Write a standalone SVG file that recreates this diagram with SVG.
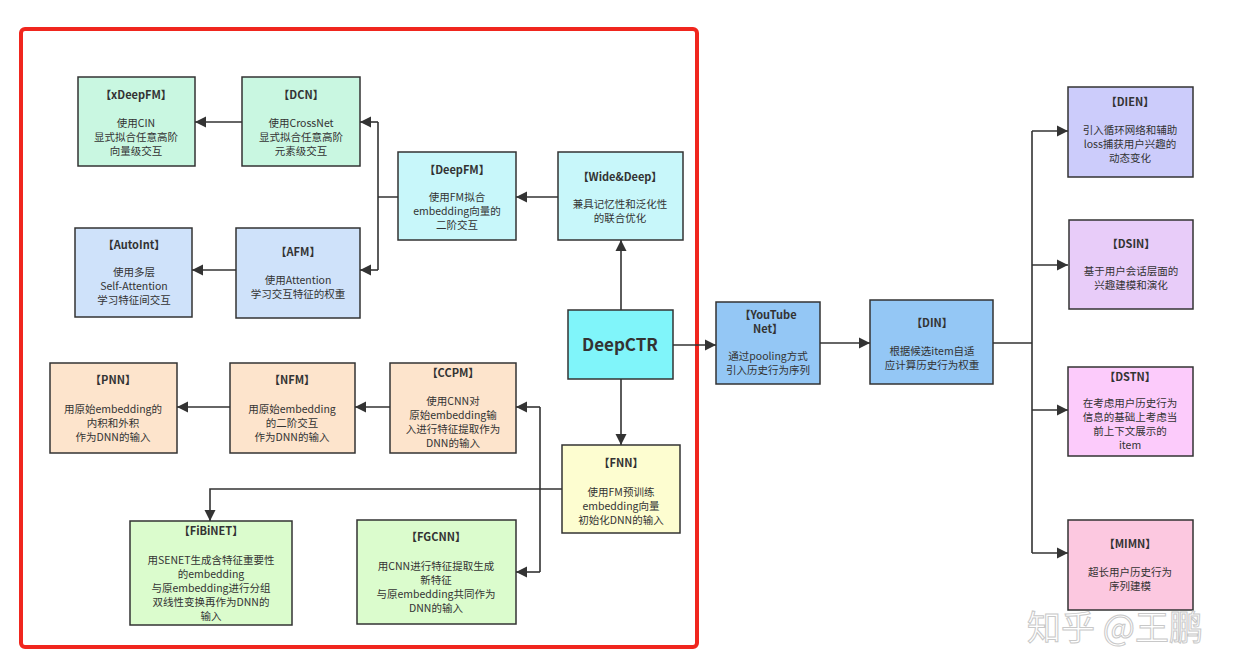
<svg xmlns="http://www.w3.org/2000/svg" width="1240" height="670" viewBox="0 0 1240 670">
<defs>
<marker id="a" viewBox="0 0 10 10" refX="10" refY="5" markerWidth="7" markerHeight="7" orient="auto"><path d="M0,0L10,5L0,10z" fill="#333"/></marker>
<style>
text{font-family:"Noto Sans CJK SC","Noto Sans",sans-serif;font-size:10.5px;fill:#333;text-anchor:middle}
.t{font-weight:bold;font-size:11px}
rect.n{stroke:#333;stroke-width:1.5}
.c path{fill:none;stroke:#333;stroke-width:1.6}
.c path.m{marker-end:url(#a)}
</style>
</defs>
<rect width="1240" height="670" fill="#fff"/>
<rect x="21" y="29" width="676" height="618" rx="4" fill="none" stroke="#f0261e" stroke-width="4"/>
<g class="c">
<path class="m" d="M558,197H516"/>
<path d="M398,197H378M378,122V270"/>
<path class="m" d="M378,122H360"/>
<path class="m" d="M378,270H360"/>
<path class="m" d="M242,122H195"/>
<path class="m" d="M236,270H192"/>
<path class="m" d="M621,310V240"/>
<path class="m" d="M621,379V445"/>
<path class="m" d="M562,489H210V521"/>
<path d="M540,407V572"/>
<path class="m" d="M540,407H516"/>
<path class="m" d="M540,572H516"/>
<path class="m" d="M390,407H355"/>
<path class="m" d="M230,407H177"/>
<path class="m" d="M673,345H716"/>
<path class="m" d="M820,343H870"/>
<path d="M993,343H1032M1032,131V553"/>
<path class="m" d="M1032,131H1068"/>
<path class="m" d="M1032,265H1068"/>
<path class="m" d="M1032,410H1068"/>
<path class="m" d="M1032,553H1068"/>
</g>
<g id="xDeepFM"><rect class="n" x="78" y="77" width="117" height="89" fill="#c9f7e1"/><text class="t" x="136" y="99">【xDeepFM】</text><text x="136" y="127">使用CIN</text><text x="136" y="141">显式拟合任意高阶</text><text x="136" y="155">向量级交互</text></g>
<g id="DCN"><rect class="n" x="242" y="77" width="118" height="89" fill="#c9f7e1"/><text class="t" x="301" y="99">【DCN】</text><text x="301" y="127">使用CrossNet</text><text x="301" y="141">显式拟合任意高阶</text><text x="301" y="155">元素级交互</text></g>
<g id="DeepFM"><rect class="n" x="398" y="152" width="118" height="88" fill="#c8f7fa"/><text class="t" x="457" y="174">【DeepFM】</text><text x="457" y="201">使用FM拟合</text><text x="457" y="215">embedding向量的</text><text x="457" y="229">二阶交互</text></g>
<g id="WideDeep"><rect class="n" x="558" y="152" width="125" height="88" fill="#c8f7fa"/><text class="t" x="620" y="181">【Wide&amp;Deep】</text><text x="620" y="208">兼具记忆性和泛化性</text><text x="620" y="222">的联合优化</text></g>
<g id="AutoInt"><rect class="n" x="75" y="228" width="117" height="89" fill="#cfe2fa"/><text class="t" x="134" y="249">【AutoInt】</text><text x="134" y="276">使用多层</text><text x="134" y="290">Self-Attention</text><text x="134" y="304">学习特征间交互</text></g>
<g id="AFM"><rect class="n" x="236" y="228" width="124" height="90" fill="#cfe2fa"/><text class="t" x="298" y="256">【AFM】</text><text x="298" y="284">使用Attention</text><text x="298" y="298">学习交互特征的权重</text></g>
<g id="DeepCTR"><rect class="n" x="568" y="310" width="105" height="69" fill="#80f5fa"/><text x="620" y="351" style="font-size:17px;font-weight:bold">DeepCTR</text></g>
<g id="PNN"><rect class="n" x="50" y="363" width="127" height="90" fill="#fde4cc"/><text class="t" x="113" y="384">【PNN】</text><text x="113" y="413">用原始embedding的</text><text x="113" y="427">内积和外积</text><text x="113" y="441">作为DNN的输入</text></g>
<g id="NFM"><rect class="n" x="230" y="363" width="125" height="90" fill="#fde4cc"/><text class="t" x="292" y="384">【NFM】</text><text x="292" y="413">用原始embedding</text><text x="292" y="427">的二阶交互</text><text x="292" y="441">作为DNN的输入</text></g>
<g id="CCPM"><rect class="n" x="390" y="363" width="126" height="90" fill="#fde4cc"/><text class="t" x="453" y="377">【CCPM】</text><text x="453" y="405">使用CNN对</text><text x="453" y="419">原始embedding输</text><text x="453" y="433">入进行特征提取作为</text><text x="453" y="447">DNN的输入</text></g>
<g id="FNN"><rect class="n" x="562" y="445" width="118" height="88" fill="#fdfdd0"/><text class="t" x="621" y="467">【FNN】</text><text x="621" y="496">使用FM预训练</text><text x="621" y="510">embedding向量</text><text x="621" y="524">初始化DNN的输入</text></g>
<g id="FiBiNET"><rect class="n" x="130" y="521" width="162" height="104" fill="#dbfccd"/><text class="t" x="211" y="535">【FiBiNET】</text><text x="211" y="564">用SENET生成含特征重要性</text><text x="211" y="578">的embedding</text><text x="211" y="592">与原embedding进行分组</text><text x="211" y="606">双线性变换再作为DNN的</text><text x="211" y="620">输入</text></g>
<g id="FGCNN"><rect class="n" x="357" y="520" width="159" height="104" fill="#dbfccd"/><text class="t" x="436" y="541">【FGCNN】</text><text x="436" y="570">用CNN进行特征提取生成</text><text x="436" y="584">新特征</text><text x="436" y="598">与原embedding共同作为</text><text x="436" y="612">DNN的输入</text></g>
<g id="YouTubeNet"><rect class="n" x="716" y="302" width="104" height="82" fill="#94c7f5"/><text class="t" x="768" y="319">【YouTube</text><text class="t" x="768" y="333">Net】</text><text x="768" y="360">通过pooling方式</text><text x="768" y="374">引入历史行为序列</text></g>
<g id="DIN"><rect class="n" x="870" y="300" width="123" height="84" fill="#94c7f5"/><text class="t" x="932" y="327">【DIN】</text><text x="932" y="355">根据候选item自适</text><text x="932" y="369">应计算历史行为权重</text></g>
<g id="DIEN"><rect class="n" x="1068" y="87" width="125" height="90" fill="#ccccfb"/><text class="t" x="1130" y="106">【DIEN】</text><text x="1130" y="134">引入循环网络和辅助</text><text x="1130" y="148">loss捕获用户兴趣的</text><text x="1130" y="162">动态变化</text></g>
<g id="DSIN"><rect class="n" x="1069" y="220" width="124" height="89" fill="#e8ccf9"/><text class="t" x="1131" y="248">【DSIN】</text><text x="1131" y="275">基于用户会话层面的</text><text x="1131" y="289">兴趣建模和演化</text></g>
<g id="DSTN"><rect class="n" x="1068" y="367" width="125" height="89" fill="#fccbfb"/><text class="t" x="1130" y="381">【DSTN】</text><text x="1130" y="407">在考虑用户历史行为</text><text x="1130" y="421">信息的基础上考虑当</text><text x="1130" y="435">前上下文展示的</text><text x="1130" y="449">item</text></g>
<g id="MIMN"><rect class="n" x="1068" y="520" width="125" height="90" fill="#fcc8e0"/><text class="t" x="1130" y="548">【MIMN】</text><text x="1130" y="576">超长用户历史行为</text><text x="1130" y="590">序列建模</text></g>
<text x="1115" y="640" style="font-size:34px;fill:#ffffff;stroke:#bbb;stroke-width:1;opacity:0.8">知乎 @王鹏</text>
</svg>
